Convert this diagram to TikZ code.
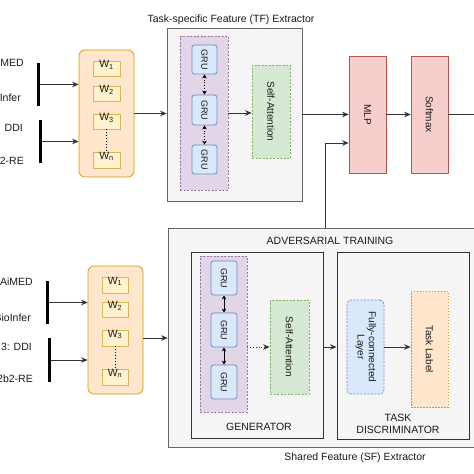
\documentclass[tikz,border=0pt]{standalone}
\usepackage{fontspec}
\setmainfont{Liberation Sans}
\usepackage{graphicx}
\usetikzlibrary{arrows.meta,fit}
\definecolor{bggray}{HTML}{F5F5F5}
\definecolor{edgegray}{HTML}{666666}
\definecolor{darkedge}{HTML}{333333}
\definecolor{purpF}{HTML}{E1D5E7}
\definecolor{purpD}{HTML}{9673A6}
\definecolor{blueF}{HTML}{DAE8FC}
\definecolor{blueD}{HTML}{6C8EBF}
\definecolor{greenF}{HTML}{D5E8D4}
\definecolor{greenD}{HTML}{82B366}
\definecolor{pinkF}{HTML}{F8CECC}
\definecolor{pinkD}{HTML}{B85450}
\definecolor{orF}{HTML}{FFE6CC}
\definecolor{orD}{HTML}{D79B00}
\definecolor{yelF}{HTML}{FFF2CC}
\definecolor{yelD}{HTML}{D6B656}
\definecolor{txt}{HTML}{1A1A1A}
\newcommand{\titlef}{\fontsize{10.5}{12.2}\selectfont}
\newcommand{\smallf}{\fontsize{10}{11.4}\selectfont}
\newcommand{\gruf}{\fontsize{9}{10}\selectfont}
\newcommand{\wf}{\fontsize{10.5}{11.5}\selectfont}
\newcommand{\rt}[1]{\rotatebox{-90}{#1}}
\begin{document}
\begin{tikzpicture}[x=1pt,y=-1pt,
  every node/.style={text=txt},
  box/.style={draw, inner sep=0pt, line width=0.75pt},
  outerbox/.style={box, draw=edgegray, fill=bggray},
  genbox/.style={box, draw=darkedge, line width=0.9pt, fill=bggray},
  purpbox/.style={box, draw=purpD, fill=purpF, dash pattern=on 2pt off 1.5pt},
  grubox/.style={box, rounded corners=2.5pt, draw=blueD, fill=blueF, font=\gruf},
  attbox/.style={box, draw=greenD, fill=greenF, dash pattern=on 2pt off 1.5pt, font=\smallf},
  pinkbox/.style={box, draw=pinkD, fill=pinkF, font=\smallf},
  fcbox/.style={box, rounded corners=4pt, draw=blueD, fill=blueF, dash pattern=on 2pt off 1.5pt, font=\smallf},
  labbox/.style={box, draw=orD, fill=orF, dash pattern=on 1.5pt off 1.5pt, font=\smallf},
  wgroup/.style={box, rounded corners=6pt, draw=orD, fill=orF},
  witem/.style={box, draw=yelD, fill=yelF, font=\wf},
  bar/.style={fill=black, inner sep=0pt, minimum width=3pt},
  tasklab/.style={anchor=east, font=\titlef, inner sep=0pt},
  arr/.style={-{Stealth[length=6.5pt,width=5.5pt]}, line width=0.8pt, draw=darkedge},
  dbl/.style={{Stealth[length=4pt,width=4.5pt]}-{Stealth[length=4pt,width=4.5pt]}, line width=0.8pt},
  ttl/.style={font=\titlef, inner sep=0pt}
]
\useasboundingbox (0,0) rectangle (474,474);
\fill[white] (0,0) rectangle (474,474);

% ================= TOP =================
\node[ttl] (tftitle) at (231,20) {Task-specific Feature (TF) Extractor};
\node[outerbox, fit={(167,28) (302,201)}] (tf) {};
\node[purpbox, fit={(180,36) (228,190)}] (purpT) {};
\node[grubox, fit={(192,45) (217,74)}] (gT1) {\rt{GRU}};
\node[grubox, fit={(192,95) (217,125)}] (gT2) {\rt{GRU}};
\node[grubox, fit={(192,145) (217,174)}] (gT3) {\rt{GRU}};
\draw[dbl, dotted] (gT1.south) -- (gT2.north);
\draw[dbl, dotted] (gT2.south) -- (gT3.north);
\node[attbox, fit={(252,65) (290,158)}] (saT) {\rt{Self-Attention}};
\draw[arr] (purpT.east) -- (purpT.east -| saT.west);

\node[wgroup, fit={(79,50) (134,177)}] (wT) {};
\node[witem, fit={(93,61) (120,76)}] (wT1) {W\textsubscript{1}};
\node[witem, fit={(93,86) (120,101)}] (wT2) {W\textsubscript{2}};
\node[witem, fit={(93,114) (120,129)}] (wT3) {W\textsubscript{3}};
\node[witem, fit={(93,152) (120,168)}] (wTn) {W\textsubscript{n}};
\draw[dotted, line width=0.9pt] (wT3.south) -- (wTn.north);

\node[bar, minimum height=43pt] (bT1) at (38,84.5) {};
\node[bar, minimum height=43pt] (bT2) at (40,141.5) {};
\draw[arr] (bT1.east) -- (bT1.east -| wT.west);
\draw[arr] (bT2.east) -- (bT2.east -| wT.west);
\node[tasklab] (lT1) at (24,63) {Task 1: AIMED};
\node[tasklab] (lT2) at (21,98) {Task 2: BioInfer};
\node[tasklab] (lT3) at (23,128) {Task 3: DDI};
\node[tasklab] (lT4) at (24,161) {Task 4: i2b2-RE};
\draw[arr] (wT.east) -- (wT.east -| tf.west);

\node[pinkbox, fit={(349,56) (386,173)}] (mlp) {\rt{MLP}};
\node[pinkbox, fit={(411,56) (448,173)}] (sm) {\rt{Softmax}};
\draw[arr] (tf.east) -- (tf.east -| mlp.west);
\draw[arr] (mlp.east) -- (sm.west);
\coordinate (outT) at (480,118);
\draw[line width=0.8pt, draw=darkedge] (sm.east) -- (sm.east -| outT);

% ================= BOTTOM =================
\node[outerbox, fit={(168,228) (482,447)}] (sf) {};
\node[ttl] (advt) at (330,241) {ADVERSARIAL TRAINING};
\coordinate (joinT) at (325,143);
\draw[arr] (sf.north -| joinT) -- (joinT) -- (joinT -| mlp.west);

\node[genbox, fit={(191,252) (323,438)}] (gen) {};
\node[purpbox, fit={(200,256) (247,412)}] (purpB) {};
\node[grubox, fit={(211,261) (237,295)}] (gB1) {\rt{GRU}};
\node[grubox, fit={(211,313) (237,347)}] (gB2) {\rt{GRU}};
\node[grubox, fit={(211,365) (237,399)}] (gB3) {\rt{GRU}};
\draw[dbl] (gB1.south) -- (gB2.north);
\draw[dbl] (gB2.south) -- (gB3.north);
\node[attbox, fit={(270,300) (309,394)}] (saB) {\rt{Self-Attention}};
\draw[arr, dotted] (purpB.east |- saB.west) -- (saB.west);
\node[ttl] (genlab) at (259,427) {GENERATOR};

\node[genbox, fit={(337,252) (469,439)}] (disc) {};
\draw[arr] (gen.east |- saB.west) -- (disc.west |- saB.west);
\node[fcbox, fit={(347,300) (384,394)}] (fc) {\rt{\begin{tabular}{@{}c@{}}Fully-connected\\Layer\end{tabular}}};
\node[labbox, fit={(411,291) (448,407)}] (tl) {\rt{Task Label}};
\draw[arr] (fc.east) -- (fc.east -| tl.west);
\node[ttl, align=center] (disclab) at (398,423.5) {TASK\\DISCRIMINATOR};
\node[ttl] (sftitle) at (355,458) {Shared Feature (SF) Extractor};

\node[wgroup, fit={(88,266) (143,394)}] (wB) {};
\node[witem, fit={(102,277) (128,293)}] (wB1) {W\textsubscript{1}};
\node[witem, fit={(102,302) (128,317)}] (wB2) {W\textsubscript{2}};
\node[witem, fit={(102,330) (128,346)}] (wB3) {W\textsubscript{3}};
\node[witem, fit={(102,369) (128,385)}] (wBn) {W\textsubscript{n}};
\draw[dotted, line width=0.9pt] (wB3.south) -- (wBn.north);
\draw[arr] (wB.east |- 0,338) coordinate (wBo) -- (wBo -| sf.west);

\node[bar, minimum height=43pt] (bB1) at (47,302.5) {};
\node[bar, minimum height=44pt] (bB2) at (49,360) {};
\draw[arr] (bB1.east) -- (bB1.east -| wB.west);
\draw[arr] (bB2.east) -- (bB2.east -| wB.west);
\node[tasklab] (lB1) at (33,282) {Task 1: AiMED};
\node[tasklab] (lB2) at (31,318) {Task 2: BioInfer};
\node[tasklab] (lB3) at (32,347) {Task 3: DDI};
\node[tasklab] (lB4) at (33,379) {Task 4: i2b2-RE};
\end{tikzpicture}
\end{document}
